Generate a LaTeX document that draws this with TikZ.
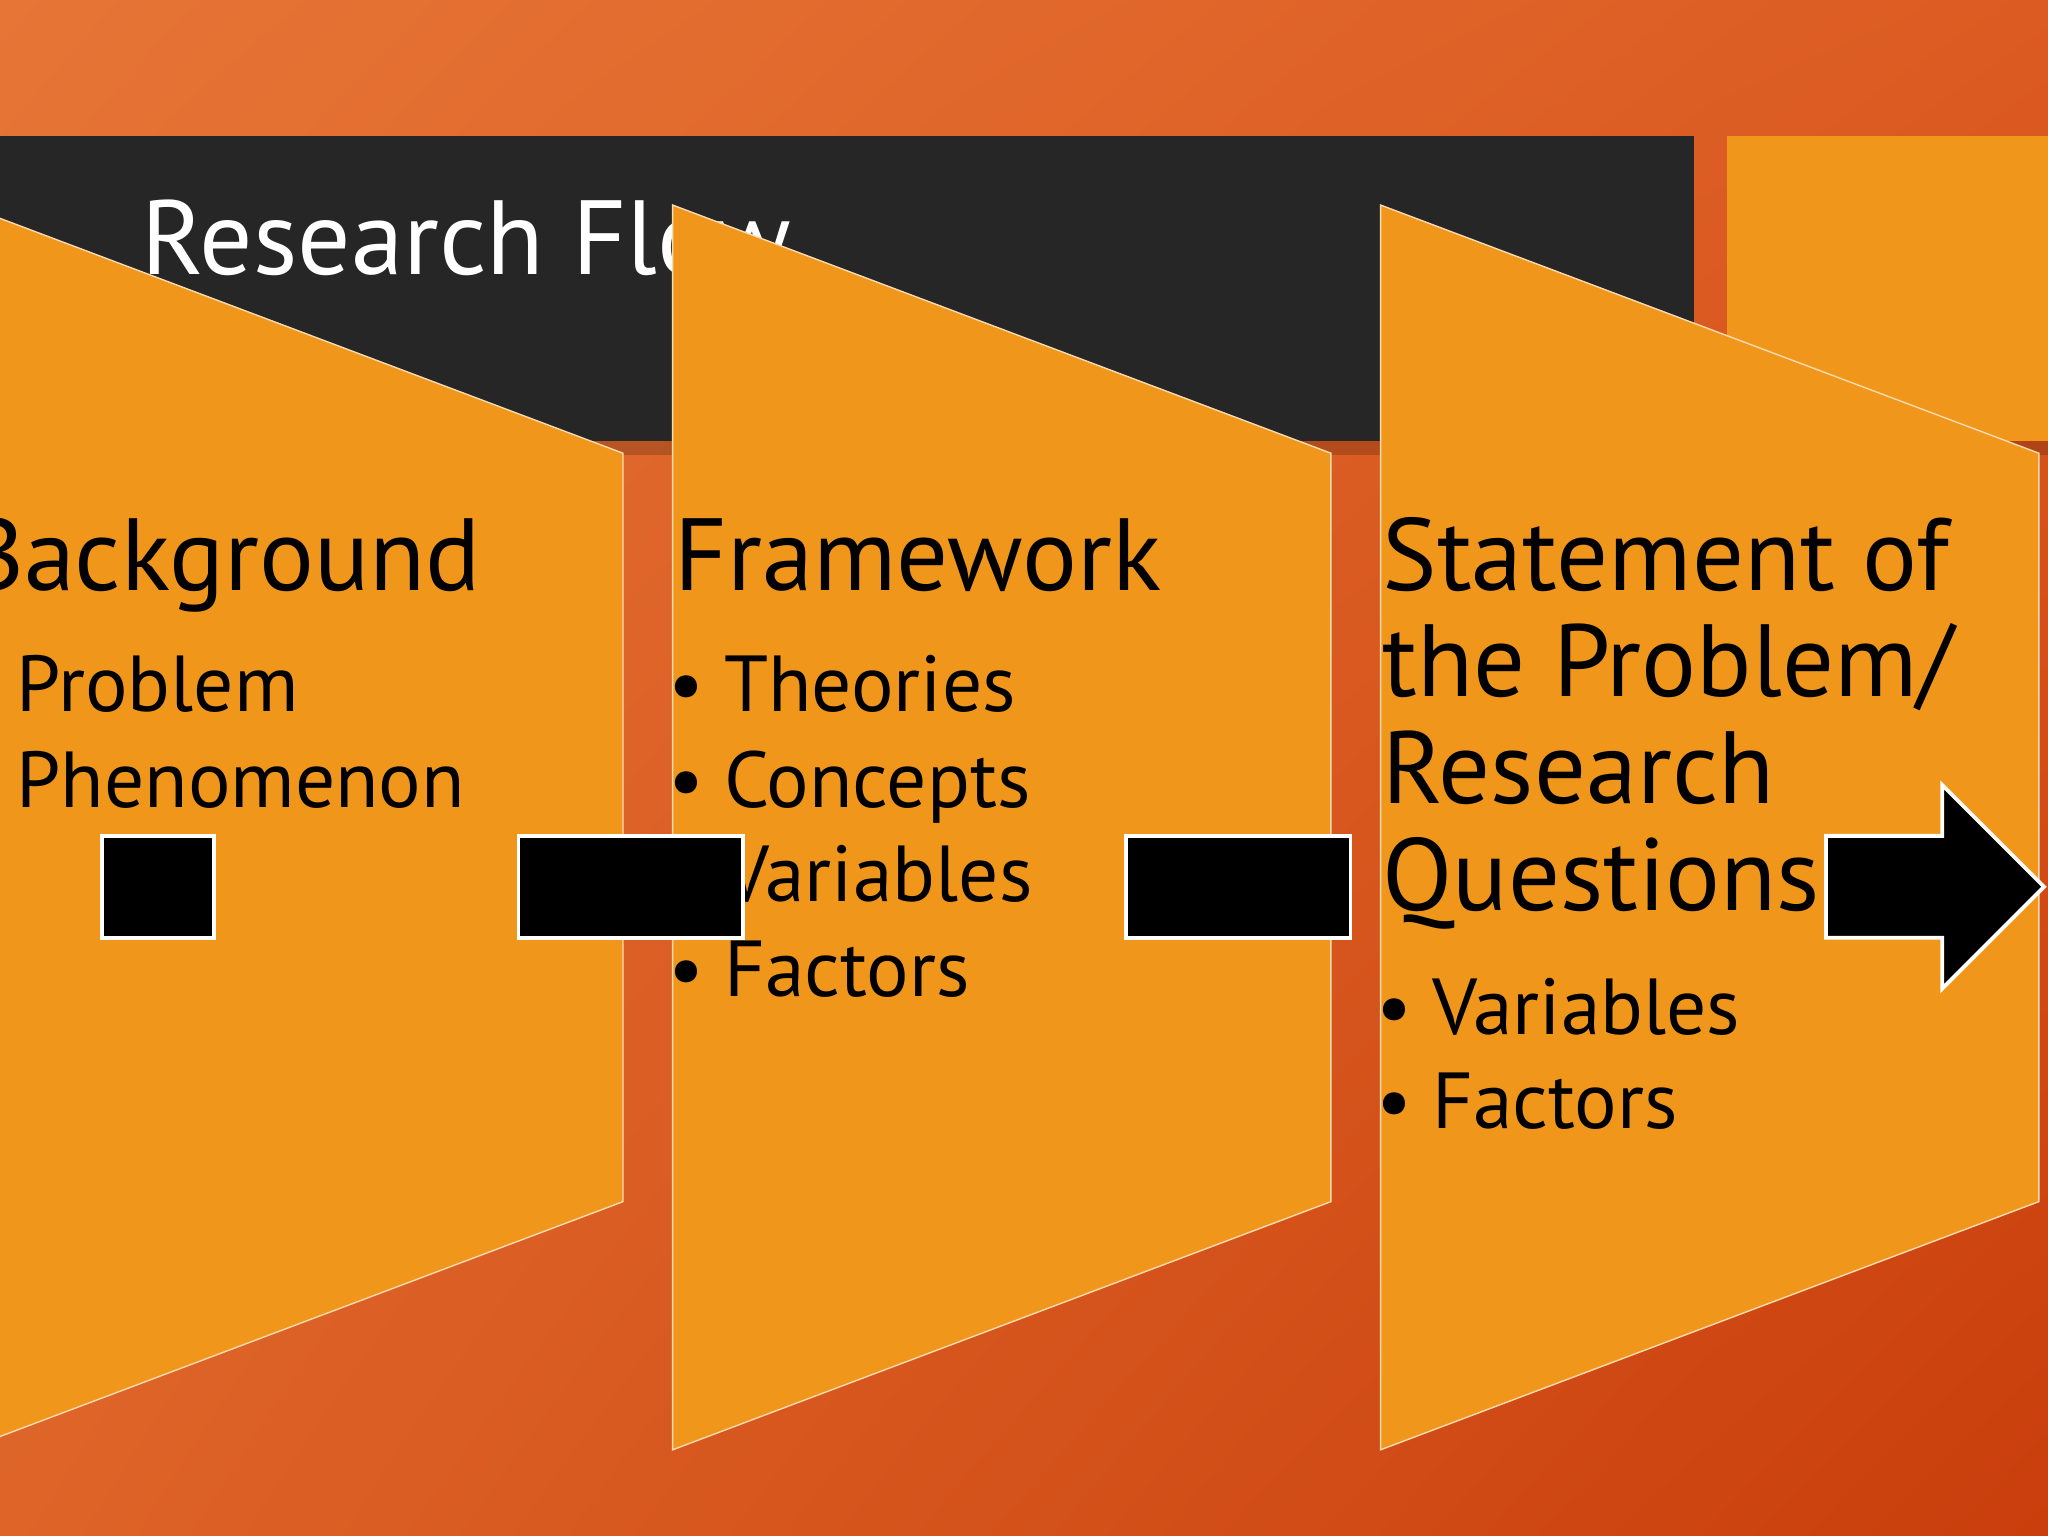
\documentclass[tikz,border=0pt]{standalone}
\usepackage{fontspec}
\setmainfont{PT Sans}
\usetikzlibrary{positioning,shadings}
\definecolor{bgtl}{HTML}{E67536}
\definecolor{bgtr}{HTML}{DC5B22}
\definecolor{bgbl}{HTML}{DE6428}
\definecolor{bgbr}{HTML}{C93E0C}
\definecolor{titlebar}{HTML}{262626}
\definecolor{panelorange}{HTML}{F0961A}

\begin{document}
\begin{tikzpicture}[x=0.013061cm,y=-0.013061cm,
  panel/.style={fill=panelorange, draw=white!65!panelorange, line width=0.4pt},
  blockbox/.style={fill=black, draw=white, line width=1.1pt},
  head/.style={anchor=base west, inner sep=0pt, font=\fontsize{29.2}{32}\selectfont},
  item/.style={anchor=base west, inner sep=0pt, font=\fontsize{22.6}{26}\selectfont}]

  \useasboundingbox (0,0) rectangle (1568,1176);
  \shade[upper left=bgtl, upper right=bgtr, lower left=bgbl, lower right=bgbr]
    (0,0) rectangle (1568,1176);

  % title bar
  \fill[black, opacity=0.18] (0,338) rectangle (1297,348);
  \fill[black, opacity=0.18] (1322,338) rectangle (1568,348);
  \fill[titlebar] (0,104) rectangle (1297,338);
  \fill[panelorange] (1322,104) rectangle (1568,338);
  \node[anchor=base west, inner sep=0pt, text=white,
    font=\fontsize{30}{36}\selectfont] (title) at (108,210) {Research Flow};

  % the three panels
  \foreach \x in {-27,515,1057}
    \draw[panel] (\x,157) -- (\x+504,347) -- (\x+504,920) -- (\x,1110) -- cycle;

  % Background
  \node[head] (bg) at (-28,452) {Background};
  \foreach \t/\yy in {Problem/545, Phenomenon/618} {
    \node[item] at (-31,\yy) {\textbullet};
    \node[item] at (12,\yy) {\t};
  }

  % Framework
  \node[head] (fw) at (516,452) {Framework};
  \foreach \t/\yy in {Theories/545, Concepts/618, Variables/690, Factors/763} {
    \node[item] at (511,\yy) {\textbullet};
    \node[item] at (554,\yy) {\t};
  }

  % Statement
  \node[head] (st1) at (1058,452) {Statement of};
  \node[head] (st2) at (1058,533) {the Problem/};
  \node[head] (st3) at (1058,615) {Research};
  \node[head] (st4) at (1058,697) {Questions};
  \foreach \t/\yy in {Variables/792, Factors/864} {
    \node[item] at (1053,\yy) {\textbullet};
    \node[item] at (1096,\yy) {\t};
  }

  % connectors
  \draw[blockbox] (78,640) rectangle (164,718);
  \draw[blockbox] (397,640) rectangle (569,718);
  \draw[blockbox] (862,640) rectangle (1034,718);
  \draw[blockbox] (1398,640) -- (1487,640) -- (1487,601) -- (1565,679)
    -- (1487,757) -- (1487,718) -- (1398,718) -- cycle;

\end{tikzpicture}
\end{document}
